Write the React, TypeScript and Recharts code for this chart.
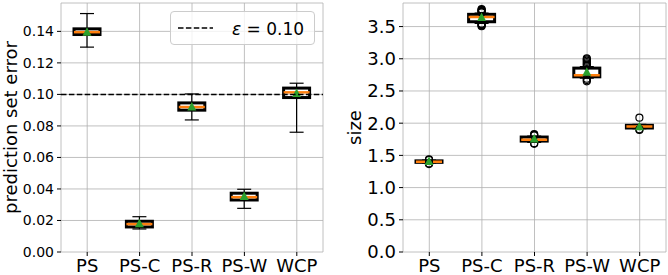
import React from 'react';
import { BarChart, Bar, XAxis, YAxis, CartesianGrid, ReferenceLine, ReferenceArea } from 'recharts';

const categories = ['PS', 'PS-C', 'PS-R', 'PS-W', 'WCP'];

// left panel: prediction set error
const errLow = [0.130, 0.0146, 0.0838, 0.0277, 0.076];
const errQ1 = [0.138, 0.0159, 0.090, 0.033, 0.098];
const errMedian = [0.1395, 0.0177, 0.092, 0.0348, 0.1013];
const errQ3 = [0.1416, 0.0195, 0.0946, 0.0373, 0.104];
const errHigh = [0.1513, 0.0224, 0.1003, 0.0398, 0.1071];
const errMean = [0.1395, 0.018, 0.092, 0.0352, 0.1005];
const errOutliers: number[][] = [[], [], [], [], []];
const errTicks = [0, 0.02, 0.04, 0.06, 0.08, 0.1, 0.12, 0.14];
const epsilon = 0.1;

// right panel: size
const sizeLow = [1.385, 3.55, 1.70, 2.70, 1.915];
const sizeQ1 = [1.392, 3.575, 1.722, 2.72, 1.925];
const sizeMedian = [1.402, 3.65, 1.742, 2.745, 1.95];
const sizeQ3 = [1.415, 3.69, 1.785, 2.855, 1.967];
const sizeHigh = [1.425, 3.71, 1.80, 2.88, 1.98];
const sizeMean = [1.405, 3.64, 1.755, 2.79, 1.945];
const sizeOutliers: number[][] = [
  [1.43, 1.44, 1.375, 1.365],
  [3.72, 3.73, 3.74, 3.75, 3.76, 3.77, 3.545, 3.535, 3.525, 3.515, 3.505],
  [1.81, 1.82, 1.83, 1.69, 1.68],
  [2.89, 2.91, 2.93, 2.95, 2.97, 2.99, 3.005, 2.69, 2.67, 2.65],
  [2.085, 1.905, 1.895],
];
const sizeTicks = [0, 0.5, 1, 1.5, 2, 2.5, 3, 3.5];

const FONT = 'DejaVu Sans';

type Row = { name: string; lo: number; q1: number; med: number; q3: number; hi: number; mean: number; out: number[] };

const buildRows = (lo: number[], q1: number[], med: number[], q3: number[], hi: number[], mean: number[], out: number[][]): Row[] =>
  categories.map((name, i) => ({ name, lo: lo[i], q1: q1[i], med: med[i], q3: q3[i], hi: hi[i], mean: mean[i], out: out[i] }));

const errRows = buildRows(errLow, errQ1, errMedian, errQ3, errHigh, errMean, errOutliers);
const sizeRows = buildRows(sizeLow, sizeQ1, sizeMedian, sizeQ3, sizeHigh, sizeMean, sizeOutliers);

function BoxShape(props: any) {
  const { x, y, width, height, payload } = props;
  const p = payload as Row;
  const top = Math.min(y, y + height);
  const bottom = Math.max(y, y + height);
  // map a value to pixels using the bar's own (scaled) range lo..hi
  const toY = (v: number) => bottom - ((v - p.lo) / (p.hi - p.lo)) * (bottom - top);
  const cx = x + width / 2;
  const cap = 7;
  const yQ1 = toY(p.q1);
  const yQ3 = toY(p.q3);
  const yMean = toY(p.mean);
  return (
    <g>
      <line x1={cx} x2={cx} y1={toY(p.hi)} y2={yQ3} stroke="#000" strokeWidth={1.2} />
      <line x1={cx} x2={cx} y1={yQ1} y2={toY(p.lo)} stroke="#000" strokeWidth={1.2} />
      <line x1={cx - cap} x2={cx + cap} y1={toY(p.hi)} y2={toY(p.hi)} stroke="#000" strokeWidth={1.2} />
      <line x1={cx - cap} x2={cx + cap} y1={toY(p.lo)} y2={toY(p.lo)} stroke="#000" strokeWidth={1.2} />
      <rect x={x} y={yQ3} width={width} height={yQ1 - yQ3} fill="none" stroke="#000" strokeWidth={3} />
      <line x1={x} x2={x + width} y1={toY(p.med)} y2={toY(p.med)} stroke="#ff7f0e" strokeWidth={2.5} />
      {p.out.map((v, i) => (
        <circle key={i} cx={cx} cy={toY(v)} r={3.5} fill="none" stroke="#000" strokeWidth={1.2} />
      ))}
      <polygon
        points={`${cx},${yMean - 5} ${cx - 4.5},${yMean + 3.5} ${cx + 4.5},${yMean + 3.5}`}
        fill="#2ca02c"
      />
    </g>
  );
}

const axisTitle = (text: string, bx: number) => (props: any) => {
  const vb = props.viewBox || {};
  const cy = (vb.y ?? 3) + (vb.height ?? 249) / 2;
  return (
    <text x={bx} y={cy} transform={`rotate(-90 ${bx} ${cy})`} textAnchor="middle" fontSize={18} fontFamily={FONT} fill="#000">
      {text}
    </text>
  );
};

function Panel(props: {
  rows: Row[];
  width: number;
  yWidth: number;
  right: number;
  domain: [number, number];
  ticks: number[];
  digits: number;
  yFont: number;
  title: string;
  titleX: number;
  refLine?: number;
}) {
  const { rows, width, yWidth, right, domain, ticks, digits, yFont, title, titleX, refLine } = props;
  return (
    <BarChart width={width} height={275} data={rows} margin={{ top: 3, right, bottom: 0, left: 0 }} style={{ fontFamily: FONT }}>
      <CartesianGrid stroke="#b0b0b0" strokeWidth={0.8} />
      <XAxis
        dataKey="name"
        height={23}
        interval={0}
        tickSize={4}
        tickMargin={3}
        axisLine={false}
        tickLine={{ stroke: '#000' }}
        tick={{ fontSize: 18, fill: '#000', fontFamily: FONT }}
      />
      <YAxis
        type="number"
        width={yWidth}
        domain={domain}
        ticks={ticks}
        interval={0}
        allowDataOverflow
        tickSize={4}
        tickMargin={3}
        axisLine={false}
        tickLine={{ stroke: '#000' }}
        tick={{ fontSize: yFont, fill: '#000', fontFamily: FONT }}
        tickFormatter={(v: number) => v.toFixed(digits)}
        label={{ content: axisTitle(title, titleX) }}
      />
      <Bar dataKey={(d: Row) => [d.lo, d.hi]} barSize={26} shape={BoxShape} isAnimationActive={false} />
      {refLine !== undefined && (
        <ReferenceLine y={refLine} stroke="#000" strokeWidth={1.5} strokeDasharray="5.5 2.4" ifOverflow="visible" />
      )}
      <ReferenceArea fill="none" stroke="#000" strokeWidth={1.2} ifOverflow="visible" />
    </BarChart>
  );
}

export default function App() {
  return (
    <div style={{ position: 'absolute', left: 0, top: 0, width: 668, height: 275, background: '#fff' }}>
      <div style={{ position: 'absolute', left: 0, top: 0 }}>
        <Panel
          rows={errRows}
          width={330}
          yWidth={61}
          right={7}
          domain={[0, 0.158]}
          ticks={errTicks}
          digits={2}
          yFont={14}
          title="prediction set error"
          titleX={17}
          refLine={epsilon}
        />
        <div
          style={{
            position: 'absolute',
            left: 170,
            top: 11,
            width: 143,
            height: 32,
            border: '1px solid #cccccc',
            borderRadius: 4,
            background: 'rgba(255,255,255,0.8)',
          }}
        >
          <svg width={143} height={32} style={{ display: 'block' }}>
            <line x1={7} x2={42} y1={16} y2={16} stroke="#000" strokeWidth={1.5} strokeDasharray="5.5 2.4" />
            <text x={61} y={23} fontSize={17} fontFamily={FONT} fill="#000">
              <tspan fontStyle="italic">ε</tspan>
              <tspan> = {epsilon.toFixed(2)}</tspan>
            </text>
          </svg>
        </div>
      </div>
      <div style={{ position: 'absolute', left: 330, top: 0 }}>
        <Panel
          rows={sizeRows}
          width={338}
          yWidth={73}
          right={2}
          domain={[0, 3.866]}
          ticks={sizeTicks}
          digits={1}
          yFont={18}
          title="size"
          titleX={31}
        />
      </div>
    </div>
  );
}
